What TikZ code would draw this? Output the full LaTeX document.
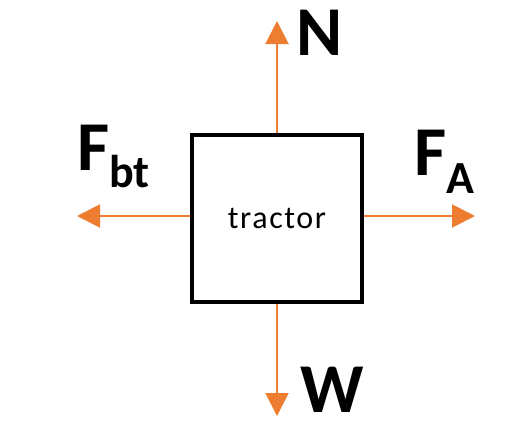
\documentclass[tikz,border=0pt]{standalone}
\usepackage{fontspec}
\setmainfont{Carlito}
\newfontfamily\boxfont[LetterSpace=5]{Carlito}
\usetikzlibrary{arrows.meta}
\definecolor{forceorange}{HTML}{ED7D31}
\begin{document}
\begin{tikzpicture}[x=1pt,y=-1pt,
  force/.style={draw=forceorange,line width=2pt,-{Triangle[length=23pt,width=23pt]}},
  bodybox/.style={draw=black,line width=3.5pt,minimum width=170pt,minimum height=167pt,inner sep=0pt,font=\fontsize{32}{38}\selectfont\boxfont},
  flabel/.style={anchor=base west,inner sep=0pt,font=\fontsize{70}{84}\selectfont\bfseries}]
\useasboundingbox (0,0) rectangle (518,447);
\node[bodybox] (box) at (277,218.5) {tractor};
\coordinate (ntip) at (277,21);
\coordinate (wtip) at (277,416);
\coordinate (ltip) at (77,216);
\coordinate (rtip) at (475,216);
\draw[force] (box.north) -- (ntip);
\draw[force] (box.south) -- (wtip);
\draw[force] (box.west |- ltip) -- (ltip);
\draw[force] (box.east |- rtip) -- (rtip);
\node[flabel] (N) at (296,55) {N};
\node[flabel] (W) at (300,412) {W};
\node[flabel] (Fbt) at (77,170) {F\raisebox{-17pt}{\fontsize{46}{50}\selectfont\bfseries bt}};
\node[flabel] (FA) at (414,175) {F\raisebox{-18pt}{\fontsize{46}{50}\selectfont\bfseries A}};
\end{tikzpicture}
\end{document}
